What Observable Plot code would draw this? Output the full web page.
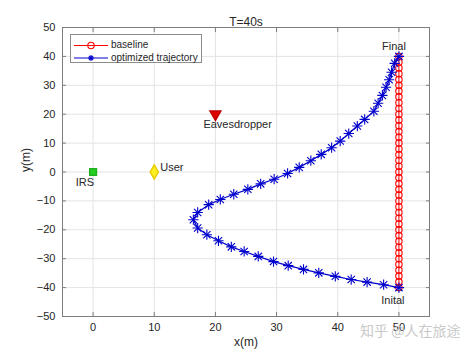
<!DOCTYPE html>
<html><head><meta charset="utf-8">
<script src="https://cdn.jsdelivr.net/npm/d3@7"></script>
<script src="https://cdn.jsdelivr.net/npm/@observablehq/plot@0.6"></script>
<style>
body{margin:0;background:#fff;}
#wrap{position:relative;width:474px;height:356px;font-family:"Liberation Sans",Arial,sans-serif;color:#262626;}
#legend{position:absolute;left:70px;top:34px;width:132px;height:29px;border:1px solid #8c8c8c;background:#fff;font-size:10px;box-sizing:border-box;}
#legend svg{position:absolute;left:0;top:0;}
#legend .t{position:absolute;left:40px;white-space:nowrap;}
#wm{position:absolute;left:360px;top:320px;font-family:"Noto Sans CJK SC",sans-serif;font-size:14px;color:#c9c9c9;white-space:nowrap;}
</style></head><body><div id="wrap"></div>
<script>
const title = "T=40s";
const xLabel = "x(m)";
const yLabel = "y(m)";
const xTicks = [0, 10, 20, 30, 40, 50];
const yTicks = [-50, -40, -30, -20, -10, 0, 10, 20, 30, 40, 50];
const seriesNames = ["baseline", "optimized trajectory"];

// optimized trajectory
const trajX = [50, 47.5, 44.8, 42.2, 39.6, 36.9, 34.4, 31.9, 29.5, 27.0, 24.7, 22.6, 20.5, 18.6, 17.1, 16.4, 17.1, 18.9, 20.8, 23.0, 25.3, 27.4, 29.6, 31.8, 33.7, 35.6, 37.3, 39.0, 40.4, 41.8, 43.2, 44.4, 45.9, 46.6, 47.3, 47.9, 48.4, 48.8, 49.3, 50];
const trajY = [-40, -39.0, -38.1, -37.2, -36.1, -34.9, -33.7, -32.4, -31.0, -29.2, -27.5, -25.9, -23.8, -21.7, -19.4, -16.5, -14.0, -11.3, -9.5, -7.7, -6.0, -4.1, -2.5, -0.5, 1.6, 3.9, 6.1, 8.4, 10.7, 13.3, 15.9, 18.2, 21.0, 23.8, 26.5, 29.3, 31.9, 34.5, 37.6, 40];

// baseline (straight line at x = 50)
const baseX = [50,50,50,50,50,50,50,50,50,50,50,50,50,50,50,50,50,50,50,50,50,50,50,50,50,50,50,50,50,50,50,50,50,50,50,50,50,50,50,50,50];
const baseY = [-40,-38,-36,-34,-32,-30,-28,-26,-24,-22,-20,-18,-16,-14,-12,-10,-8,-6,-4,-2,0,2,4,6,8,10,12,14,16,18,20,22,24,26,28,30,32,34,36,38,40];

// nodes
const nodeNames = ["IRS", "User", "Eavesdropper"];
const nodeX = [0, 10, 20];
const nodeY = [0, 0, 20];

const endNames = ["Final", "Inital"];
const endX = [50, 50];
const endY = [40, -40];

const traj = trajX.map((x, i) => ({x, y: trajY[i]}));
const base = baseX.map((x, i) => ({x, y: baseY[i]}));
const nodes = nodeNames.map((n, i) => ({n, x: nodeX[i], y: nodeY[i]}));
const ends = endNames.map((n, i) => ({n, x: endX[i], y: endY[i]}));

const RED = "#ff0000", BLUE = "#0000cc", GRID = "#e3e3e3", AX = "#7d7d7d";

const plot = Plot.plot({
  width: 474, height: 356,
  marginLeft: 62, marginRight: 45, marginTop: 27, marginBottom: 40,
  x: {domain: [-5, 55]},
  y: {domain: [-50, 50]},
  style: {fontFamily: '"Liberation Sans", Arial, sans-serif', fontSize: "11px", background: "#fff", color: "#262626"},
  marks: [
    Plot.gridX(xTicks, {stroke: GRID, strokeOpacity: 1}),
    Plot.gridY(yTicks, {stroke: GRID, strokeOpacity: 1}),
    Plot.frame({stroke: AX}),
    Plot.axisX(xTicks, {anchor: "bottom", label: null, tickSize: -4, tickPadding: 11, stroke: AX, fill: "#262626"}),
    Plot.axisX(xTicks, {anchor: "top", label: null, tickSize: -4, tickFormat: () => "", stroke: AX}),
    Plot.axisY(yTicks, {anchor: "left", label: null, tickSize: -4, tickPadding: 11, stroke: AX, fill: "#262626"}),
    Plot.axisY(yTicks, {anchor: "right", label: null, tickSize: -4, tickFormat: () => "", stroke: AX}),
    Plot.text([title], {frameAnchor: "top", dy: -10, fontSize: 12, fill: "#262626"}),
    Plot.text([xLabel], {frameAnchor: "bottom", dy: 29, fontSize: 12, fill: "#262626"}),
    Plot.text([yLabel], {frameAnchor: "left", dx: -36, rotate: -90, fontSize: 12, fill: "#262626"}),
    // baseline
    Plot.line(base, {x: "x", y: "y", stroke: RED, strokeWidth: 1}),
    Plot.dot(base, {x: "x", y: "y", r: 3.2, stroke: RED, fill: "none", strokeWidth: 1.1}),
    // optimized trajectory
    Plot.line(traj, {x: "x", y: "y", stroke: BLUE, strokeWidth: 1.2}),
    Plot.dot(traj, {x: "x", y: "y", symbol: "plus", r: 3.4, stroke: BLUE, strokeWidth: 1.1}),
    Plot.dot(traj, {x: "x", y: "y", symbol: "times", r: 3.4, stroke: BLUE, strokeWidth: 1.1}),
    // nodes
    Plot.dot(nodes.filter(d => d.n === "IRS"), {x: "x", y: "y", symbol: "square", r: 3.8, fill: "#22d022", stroke: "#22b022"}),
    Plot.dot(nodes.filter(d => d.n === "User"), {x: "x", y: "y", symbol: "diamond", r: 4.3, fill: "#ffee22", stroke: "#e8cc00"}),
    Plot.dot(nodes.filter(d => d.n === "Eavesdropper"), {x: "x", y: "y", symbol: "triangle", rotate: 180, r: 4, fill: "#e00000", stroke: "#c00000"}),
    Plot.text(nodes.filter(d => d.n === "IRS"), {x: "x", y: "y", text: "n", textAnchor: "end", dx: 1, dy: 10, fontSize: 11, fill: "#262626"}),
    Plot.text(nodes.filter(d => d.n === "User"), {x: "x", y: "y", text: "n", textAnchor: "start", dx: 6, dy: -5, fontSize: 11, fill: "#262626"}),
    Plot.text(nodes.filter(d => d.n === "Eavesdropper"), {x: "x", y: "y", text: "n", textAnchor: "start", dx: -12, dy: 10, fontSize: 11, fill: "#262626"}),
    Plot.text(ends.filter(d => d.n === "Final"), {x: "x", y: "y", text: "n", dx: -5, dy: -10, fontSize: 11, fill: "#262626"}),
    Plot.text(ends.filter(d => d.n === "Inital"), {x: "x", y: "y", text: "n", dx: -6, dy: 13, fontSize: 11, fill: "#262626"})
  ]
});

const wrap = document.getElementById("wrap");
wrap.appendChild(plot);

// legend
const leg = document.createElement("div");
leg.id = "legend";
leg.innerHTML = `<svg width="132" height="29">
  <line x1="3" x2="37" y1="10.5" y2="10.5" stroke="${RED}" stroke-width="1"/>
  <circle cx="20" cy="10.5" r="3.2" fill="none" stroke="${RED}" stroke-width="1.1"/>
  <line x1="3" x2="37" y1="23" y2="23" stroke="${BLUE}" stroke-width="1.2"/>
  <path d="M17,23H23M20,20V26M17.9,20.9L22.1,25.1M22.1,20.9L17.9,25.1" stroke="${BLUE}" stroke-width="1.1"/>
</svg>
<div class="t" style="top:4px">${seriesNames[0]}</div>
<div class="t" style="top:16.5px">${seriesNames[1]}</div>`;
wrap.appendChild(leg);

const wm = document.createElement("div");
wm.id = "wm";
wm.textContent = "知乎 @人在旅途";
wrap.appendChild(wm);
</script>
</body></html>
